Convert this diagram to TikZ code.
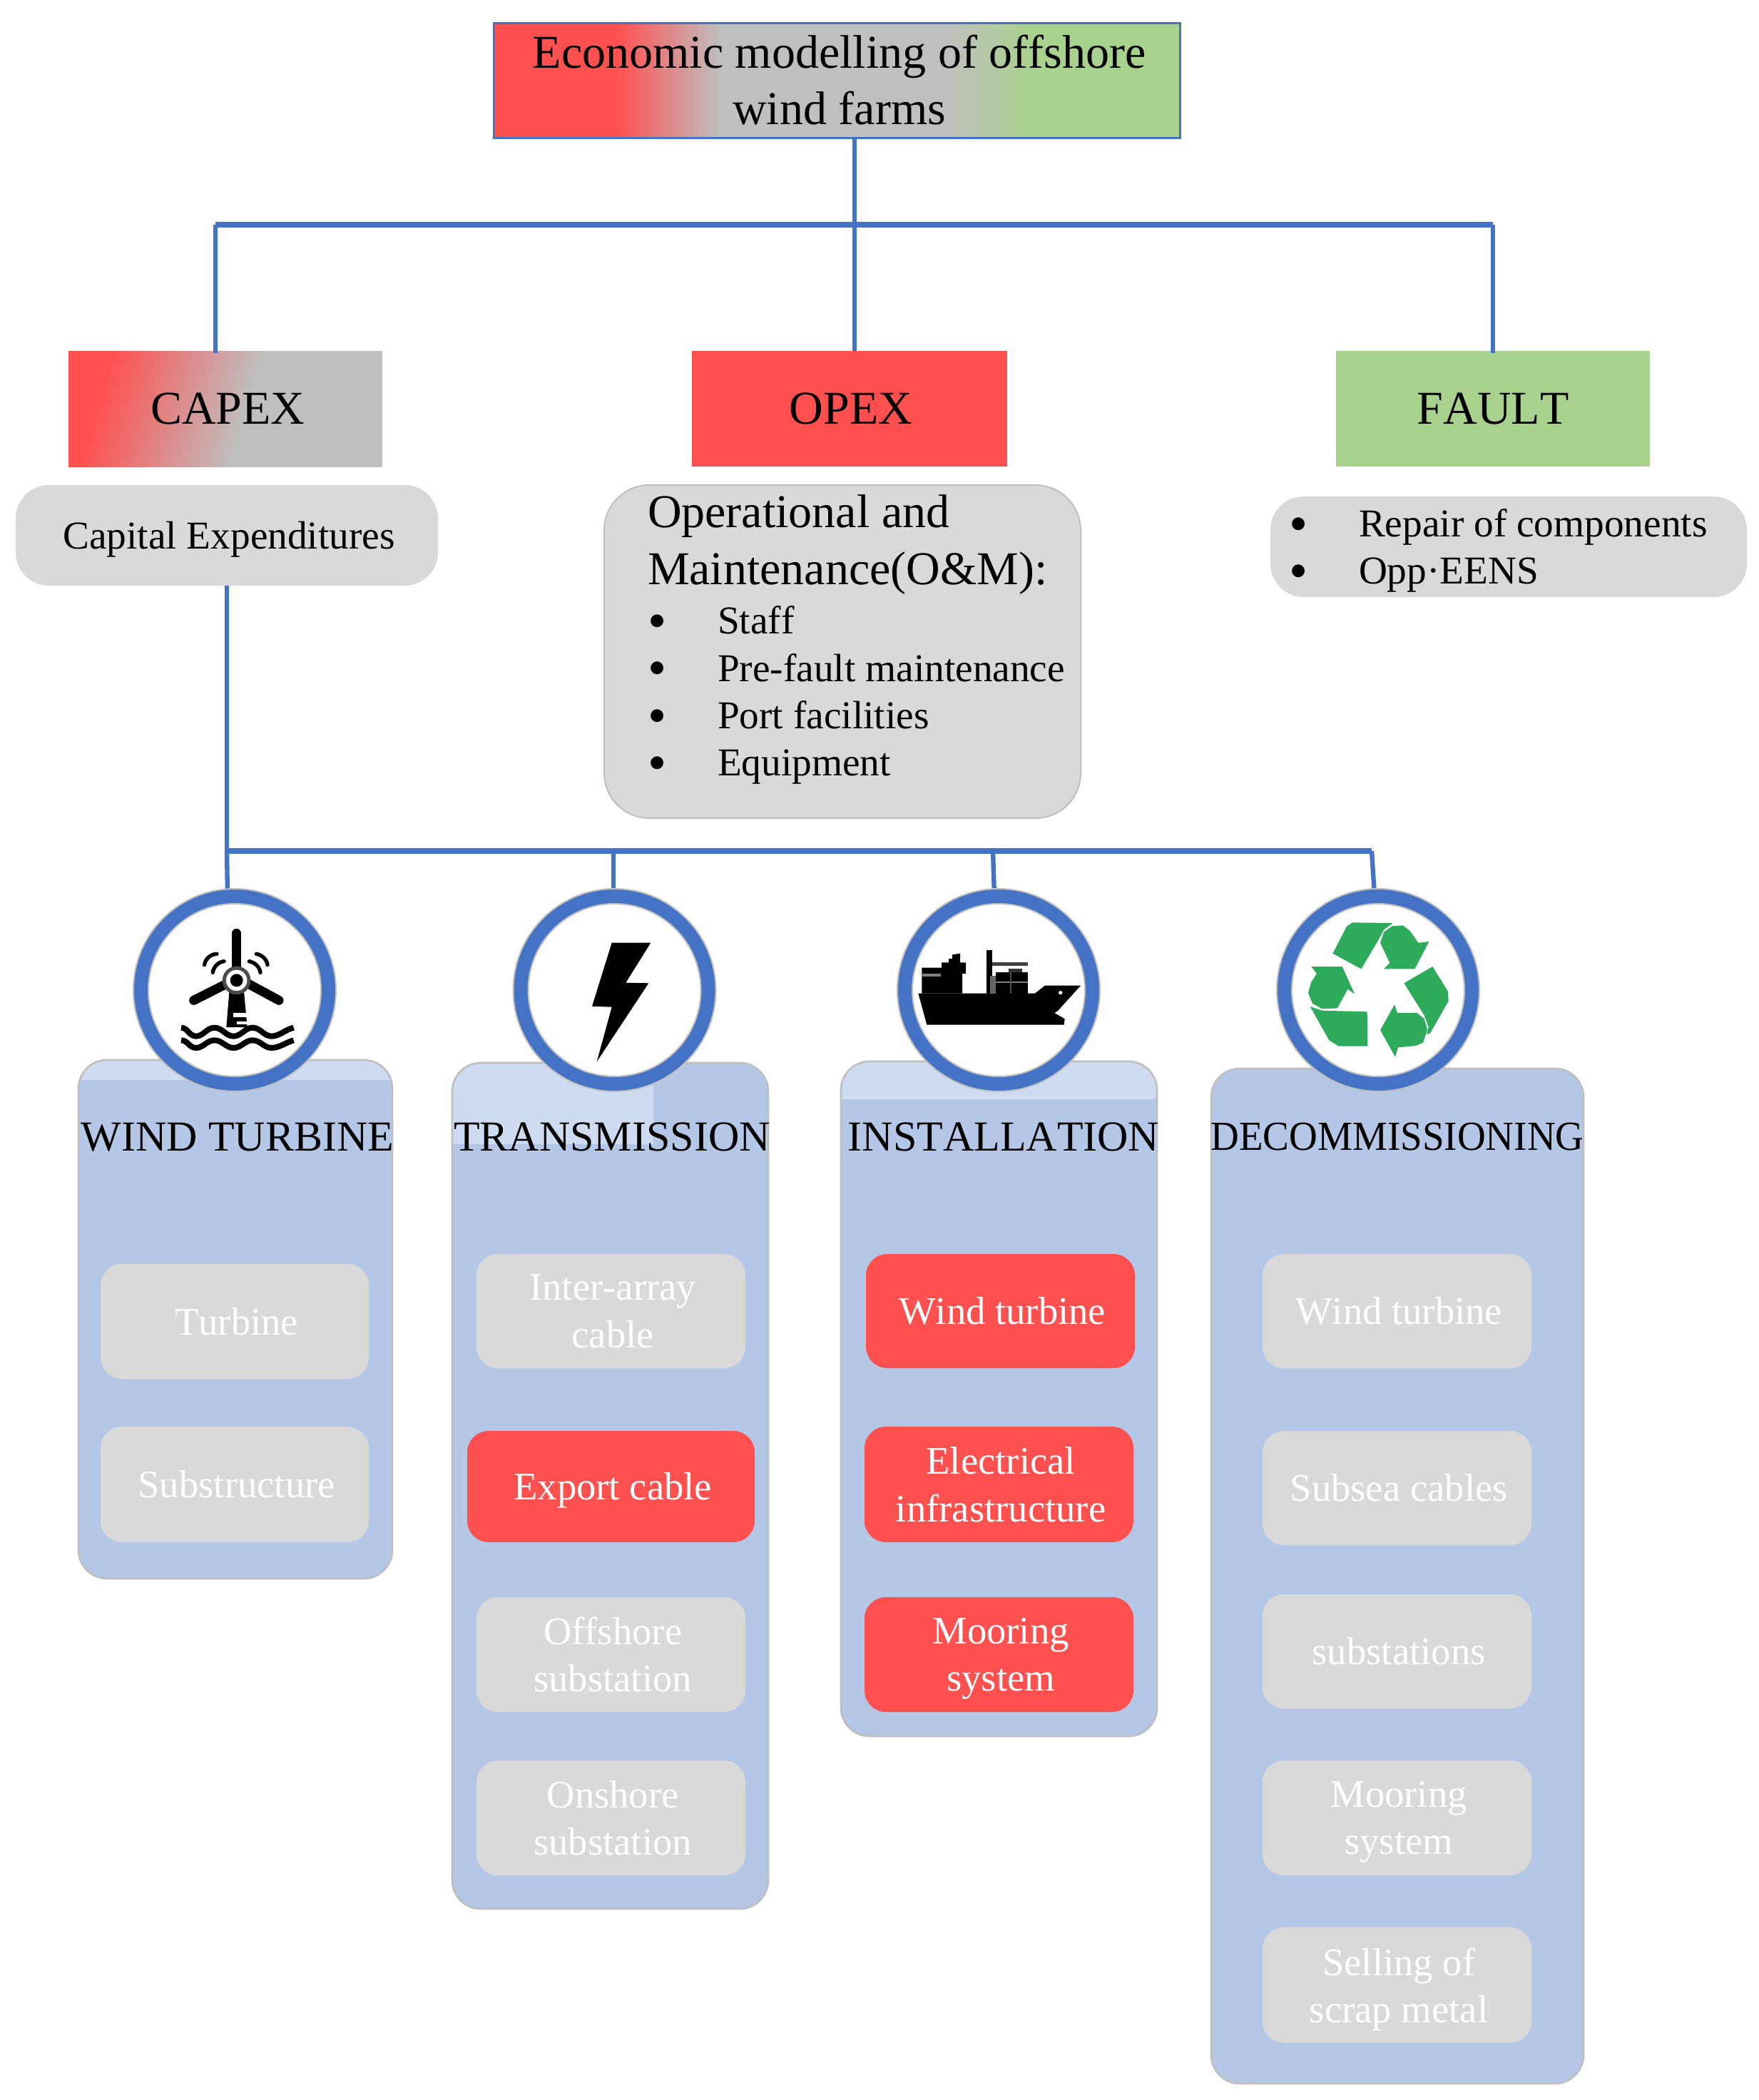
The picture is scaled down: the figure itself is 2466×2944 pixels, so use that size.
\documentclass[tikz,border=0pt]{standalone}
\usepackage{fontspec}
\setmainfont[Kerning=Off]{Liberation Serif}
\definecolor{cred}{HTML}{FF5050}
\definecolor{cgray}{HTML}{BFBFBF}
\definecolor{cgreen}{HTML}{A9D18E}
\definecolor{cbox}{HTML}{D9D9D9}
\definecolor{cblue}{HTML}{4472C4}
\definecolor{cpanel}{HTML}{B4C7E7}
\definecolor{cdots}{HTML}{CFDBF0}
\definecolor{crec}{HTML}{2EAB5A}
\pgfdeclarehorizontalshading{rootshade}{100bp}{color(0bp)=(cred); color(34bp)=(cred); color(41.5bp)=(cgray); color(58bp)=(cgray); color(64bp)=(cgreen); color(100bp)=(cgreen)}
\pgfdeclarehorizontalshading{capexshade}{100bp}{color(0bp)=(cred); color(27bp)=(cred); color(54bp)=(cgray); color(100bp)=(cgray)}
\newcommand\bx[7]{%
  \pgfmathsetmacro\cx{(#2+#4)/2}\pgfmathsetmacro\cy{(#3+#5)/2}%
  \pgfmathsetmacro\bw{(#4-#2)*0.3}\pgfmathsetmacro\bh{(#5-#3)*0.3}%
  \node[#6,minimum width=\bw pt,minimum height=\bh pt] (#1) at (\cx,\cy) {#7};}
\newcommand\bul[1]{\makebox[29.4pt][l]{\raisebox{-2pt}{\scalebox{1.35}{\textbullet}}}#1}
\newcommand\bigf{\fontsize{19.8}{23.7}\selectfont}
\newcommand\ls{\hspace*{1.6pt}}
\tikzset{
  base/.style={inner sep=0pt,outer sep=0pt,align=center,text=black},
  big/.style={font=\fontsize{19.8}{23.7}\selectfont},
  body/.style={font=\fontsize{16.6}{19.9}\selectfont},
  head/.style={base,font=\fontsize{18}{21}\selectfont,anchor=center},
  conn/.style={draw=cblue,line width=1.9pt},
  bus/.style={draw=cblue,line width=2.4pt},
  desc/.style={base,body,fill=cbox,rounded corners=14pt},
  panel/.style={base,fill=cpanel,draw=cgray,line width=0.8pt,rounded corners=12pt},
  dots/.style={cdots,sharp corners},
  item/.style={base,font=\fontsize{16.4}{19.9}\selectfont,fill=cbox,text=white,rounded corners=9pt,text depth=0pt},
  hot/.style={item,fill=cred},
  ring/.style={circle,inner sep=0pt,outer sep=0pt,fill=cblue,draw=cgray,line width=0.6pt,minimum size=85.2pt},
  hole/.style={circle,inner sep=0pt,outer sep=0pt,fill=white,draw=cgray,line width=0.6pt,minimum size=72.6pt},
  blade/.style={black,line width=3.9pt,line cap=round},
  arc/.style={black,line width=1.6pt,line cap=round},
  wave/.style={black,line width=2.4pt},
}
\begin{document}
\begin{tikzpicture}[x=0.3pt,y=-0.3pt]
\useasboundingbox (0,0) rectangle (2466,2944);
% top level
\bx{root}{692}{32}{1654}{193}{base,big,shading=rootshade,draw=cblue,line width=0.9pt}{\hspace*{2.2pt}Economic modelling of offshore\\\hspace*{2.2pt}wind farms}
\bx{capex}{96}{492}{536}{654}{base,big,shading=capexshade,shading angle=-16}{\hspace*{2pt}CAPEX}
\bx{opex}{970}{492}{1412}{654}{base,big,fill=cred}{\hspace*{1.1pt}OPEX}
\bx{fault}{1873}{492}{2313}{654}{base,big,fill=cgreen}{FAULT}
\bx{capd}{22}{680}{614}{821}{desc}{}
\node[base,body] (capt) at (321,756) {Capital Expenditures};
\bx{opd}{847}{680}{1515}{1147}{desc,draw=cgray,line width=0.6pt,rounded corners=19pt}{}
\node[base,body,anchor=north west,align=left] (opdt) at (908,694) {%
  \bigf Operational and\\[3.9pt]
  \bigf Maintenance(O\&M):\\[1pt]
  \bul{Staff}\\
  \bul{Pre-fault maintenance}\\
  \bul{Port facilities}\\
  \bul{Equipment}};
\bx{faultd}{1781}{696}{2449}{837}{desc}{}
\node[base,body,anchor=west,align=left] (faultt) at (1807,772) {\bul{Repair of components}\\\bul{Opp·EENS}};
% connectors of the top level
\coordinate (jc) at (302,315);
\coordinate (jo) at (1198,315);
\coordinate (jf) at (2093,315);
\draw[conn] (root.south -| jo) -- (opex.north -| jo);
\draw[conn] (jc) -- ([yshift=-1pt]capex.north -| jc);
\draw[conn] (jf) -- ([yshift=-1pt]fault.north -| jf);
\draw[bus] (jc) -- (jf);
% panels
\bx{p1}{110}{1486}{550}{2213}{panel,path picture={\fill[dots] (path picture bounding box.north west) rectangle ++(132pt,-8.4pt);}}{}
\bx{p2}{634}{1490}{1077}{2676}{panel,path picture={\fill[dots] (path picture bounding box.north west) rectangle ++(84.6pt,-34.2pt);}}{}
\bx{p3}{1179}{1488}{1622}{2434}{panel,path picture={\fill[dots] (path picture bounding box.north west) rectangle ++(132.9pt,-15.9pt);}}{}
\bx{p4}{1698}{1498}{2220}{2921}{panel}{}
% connectors of the second level
\coordinate (b1) at (capd.south |- 0,1193);
\coordinate (b2) at (860,1193);
\coordinate (b3) at (1392,1193);
\coordinate (b4) at (1923,1193);
\coordinate (e1) at (319,1255);
\coordinate (e2) at (860,1255);
\coordinate (e3) at (1394,1255);
\coordinate (e4) at (1927,1255);
\draw[conn] (capd.south) -- (b1);
\draw[bus] (b1) -- (b4);
\draw[conn] (b1) -- (e1);
\draw[conn] (b2) -- (e2);
\draw[conn] (b3) -- (e3);
\draw[conn] (b4) -- (e4);
% rings
\node[ring] (c1) at (329,1388) {};
\node[ring] (c2) at (861.5,1388) {};
\node[ring] (c3) at (1400,1388) {};
\node[ring] (c4) at (1932,1388) {};
\node[hole] (h1) at (329,1388) {};
\node[hole] (h2) at (861.5,1388) {};
\node[hole] (h3) at (1400,1388) {};
\node[hole] (h4) at (1932,1388) {};
% icon: turbine (coordinates are 3x, origin 230,1280)
\begin{scope}[shift={(230,1280)},x=0.1pt,y=-0.1pt]
  \draw[blade] (305,85) -- (305,240);
  \draw[blade] (125,367) -- (262,298);
  \draw[blade] (483,367) -- (350,295);
  \fill[black] (275,320) -- (335,320) -- (350,480) -- (262,480) -- cycle;
  \fill[white] (290,420) rectangle (350,438);
  \fill[white] (305,455) rectangle (350,468);
  \draw[black!70,line width=1.5pt,fill=white] (305,283) circle (52);
  \fill[black] (305,283) circle (27);
  \draw[arc] (170,218) .. controls (172,195) and (195,172) .. (222,172);
  \draw[arc] (205,250) .. controls (207,228) and (228,205) .. (252,203);
  \draw[arc] (435,218) .. controls (433,195) and (410,175) .. (388,172);
  \draw[arc] (405,250) .. controls (403,228) and (382,207) .. (358,203);
  \draw[wave] (72,482) .. controls (100,482) and (105,518) .. (135,518) .. controls (165,518) and (180,482) .. (212,482) .. controls (245,482) and (260,518) .. (292,518) .. controls (325,518) and (340,482) .. (372,482) .. controls (405,482) and (420,518) .. (452,518) .. controls (485,518) and (510,490) .. (545,482);
  \draw[wave] (72,535) .. controls (100,535) and (105,567) .. (135,567) .. controls (165,567) and (180,535) .. (212,535) .. controls (245,535) and (260,567) .. (292,567) .. controls (325,567) and (340,535) .. (372,535) .. controls (405,535) and (420,567) .. (452,567) .. controls (485,567) and (510,545) .. (545,535);
\end{scope}
% icon: lightning
\fill[black] (857.7,1321.7) -- (912.3,1321.7) -- (877.3,1377.7) -- (909.3,1378.3) -- (836.7,1488.3) -- (857.7,1411.7) -- (830,1410.7) -- cycle;
% icon: ship (origin 1270,1320)
\begin{scope}[shift={(1270,1320)},x=0.1pt,y=-0.1pt]
  \fill[black] (52,218) -- (542,218) -- (585,185) -- (735,185) -- (640,290) -- (625,300) -- (668,325) -- (665,350) -- (88,350) -- cycle;
  \fill[black] (67,110) -- (150,110) -- (150,88) -- (180,88) -- (180,72) -- (195,72) -- (195,55) -- (228,50) -- (228,88) -- (252,88) -- (252,135) -- (237,135) -- (237,218) -- (67,218) -- cycle;
  \fill[gray] (70,135) rectangle (148,146);
  \fill[black] (340,35) rectangle (362,218);
  \fill[black!75] (362,87) rectangle (512,102);
  \fill[black] (378,130) rectangle (512,218);
  \fill[black!80] (432,115) rectangle (490,130);
  \fill[black!60] (355,145) rectangle (378,218);
  \fill[gray] (378,168) rectangle (512,174);
  \fill[black!70] (437,130) rectangle (443,218);
  \fill[white] (650,215) circle (8);
\end{scope}
% icon: recycling (origin 1820,1280)
\begin{scope}[shift={(1820,1280)},x=0.1pt,y=-0.1pt]
  \fill[crec] (228,40) -- (398,42) -- (360,70) -- (345,100) -- (265,235) -- (145,170) -- (205,55) -- cycle;
  \fill[crec] (360,235) -- (385,210) -- (345,125) -- (360,80) -- (395,55) -- (440,52) -- (470,75) -- (505,125) -- (550,120) -- (490,235) -- cycle;
  \fill[crec] (565,225) -- (630,330) -- (632,370) -- (555,505) -- (540,510) -- (548,480) -- (530,430) -- (445,295) -- cycle;
  \fill[crec] (405,385) -- (417,420) -- (500,420) -- (530,445) -- (543,490) -- (525,545) -- (495,558) -- (420,565) -- (408,605) -- (345,492) -- cycle;
  \fill[crec] (50,393) -- (100,410) -- (290,415) -- (292,560) -- (170,560) -- (130,535) -- cycle;
  \fill[crec] (55,225) -- (185,225) -- (237,340) -- (208,320) -- (165,400) -- (100,403) -- (60,380) -- (42,335) -- (55,290) -- (78,255) -- cycle;
\end{scope}
% panel headings
\node[head] (t1) at (333,1594) {WIND TURBINE};
\node[head] (t2) at (858,1594) {TRANSMISSION};
\node[head] (t3) at (1407,1594) {INSTALLATION};
\node[head,font=\fontsize{17.4}{21}\selectfont] (t4) at (1959,1594) {\scalebox{.95}[1]{DECOMMISSIONING}};
% panel items
\bx{a1}{141}{1772}{517}{1933}{item}{\ls Turbine}
\bx{a2}{141}{2000}{517}{2162}{item}{\ls Substructure}
\bx{b11}{668}{1758}{1045}{1918}{item}{\ls Inter-array\\\ls cable}
\bx{b12}{655}{2006}{1058}{2162}{hot}{\ls Export cable}
\bx{b13}{668}{2239}{1045}{2400}{item}{\ls Offshore\\\ls substation}
\bx{b14}{668}{2468}{1045}{2629}{item}{\ls Onshore\\\ls substation}
\bx{c11}{1214}{1758}{1591}{1918}{hot}{\ls Wind turbine}
\bx{c12}{1212}{2000}{1589}{2162}{hot}{\ls Electrical\\\ls infrastructure}
\bx{c13}{1212}{2239}{1589}{2400}{hot}{\ls Mooring\\\ls system}
\bx{d11}{1770}{1758}{2147}{1918}{item}{\ls Wind turbine}
\bx{d12}{1770}{2006}{2147}{2166}{item}{\ls Subsea cables}
\bx{d13}{1770}{2235}{2147}{2395}{item}{\ls substations}
\bx{d14}{1770}{2468}{2147}{2629}{item}{\ls Mooring\\\ls system}
\bx{d15}{1770}{2702}{2147}{2864}{item}{\ls Selling of\\\ls scrap metal}
\end{tikzpicture}
\end{document}
